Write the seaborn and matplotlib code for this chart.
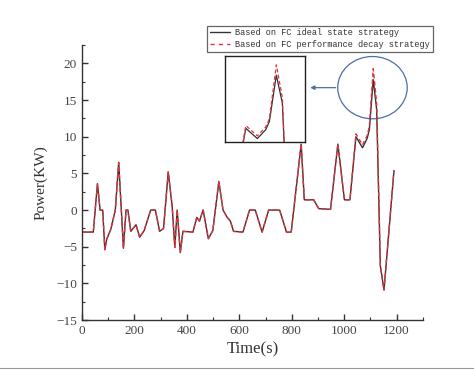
import numpy as np
import pandas as pd
import matplotlib
matplotlib.use('Agg')
import matplotlib.pyplot as plt
from matplotlib.patches import Ellipse
from matplotlib.lines import Line2D
from matplotlib.ticker import MultipleLocator
import seaborn as sns

# power profile (time in s, power in kW)
time_s = [0, 43, 59, 69, 79, 87, 94, 110, 127, 140, 158, 168, 175, 186, 206, 220, 237,
          262, 280, 296, 311, 329, 344, 354, 363, 375, 385, 423, 438, 448, 462, 482, 499,
          522, 538, 554, 566, 578, 614, 639, 661, 687, 712, 754, 780, 798, 836, 848, 884,
          903, 948, 976, 1001, 1022, 1045, 1070, 1088, 1096, 1111, 1124, 1138, 1152, 1190]
power_ideal = [-3, -3, 3.6, 0, 0, -5.4, -4, -2.6, 0, 6.5, -5.2, 0, 0, -2.9, -2, -3.7, -2.8,
               0, 0, -2.9, -2.5, 5.2, 0.5, -5.1, 0, -5.8, -2.9, -3, -1, -1.5, 0, -3.9, -2.8,
               3.9, 0, -1, -1.5, -2.9, -3, 0, 0, -3, 0, 0, -3, -3, 9, 1.4, 1.4,
               0.2, 0.1, 9, 1.4, 1.4, 10, 8.5, 9.8, 11, 17.8, 13.7, -7.6, -10.9, 5.4]
power_decay = [-3, -3, 3.6, 0, 0, -5.4, -4, -2.6, 0, 6.5, -5.2, 0, 0, -2.9, -2, -3.7, -2.8,
               0, 0, -2.9, -2.5, 5.2, 0.5, -5.1, 0, -5.8, -2.9, -3, -1, -1.5, 0, -3.9, -2.8,
               3.9, 0, -1, -1.5, -2.9, -3, 0, 0, -3, 0, 0, -3, -3, 9, 1.4, 1.4,
               0.2, 0.1, 9, 1.4, 1.4, 10.4, 8.9, 10.2, 11.4, 19.3, 14.5, -7.6, -10.9, 5.4]

label_ideal = 'Based on FC ideal state strategy'
label_decay = 'Based on FC performance decay strategy'

sns.set_style('ticks')
plt.rcParams['font.family'] = ['Liberation Serif', 'DejaVu Sans']
plt.rcParams['xtick.direction'] = 'in'
plt.rcParams['ytick.direction'] = 'in'

fig = plt.figure(figsize=(4.74, 3.70), dpi=100)
ax = fig.add_axes([0.173, 0.135, 0.719, 0.743])

sns.lineplot(x=time_s, y=power_ideal, ax=ax, color='#333333', lw=1.0, label=label_ideal, legend=False)
sns.lineplot(x=time_s, y=power_decay, ax=ax, color='#e8303a', lw=1.0,
             label=label_decay, legend=False)
ax.lines[1].set_linestyle((0, (3, 2)))

ax.set_xlim(0, 1300)
ax.set_ylim(-15, 22.5)
ax.xaxis.set_minor_locator(MultipleLocator(100))
ax.set_xticks([0, 200, 400, 600, 800, 1000, 1200])
ax.yaxis.set_minor_locator(MultipleLocator(2.5))
ax.set_yticks([-15, -10, -5, 0, 5, 10, 15, 20])
ax.tick_params(which='major', length=4, width=1, labelsize=9.5, colors='#333333',
               labelcolor='#444444')
ax.tick_params(which='minor', length=2.5, width=0.8, colors='#333333')
for s in ['top', 'right']:
    ax.spines[s].set_visible(False)
for s in ['left', 'bottom']:
    ax.spines[s].set_linewidth(1.0)
    ax.spines[s].set_color('#333333')

ax.set_xlabel('Time(s)', fontsize=12, labelpad=3, color='#333333')
ax.set_ylabel('Power(KW)', fontsize=11, labelpad=6, color='#333333')

# circle round the peak and arrow to the zoomed view
ell = Ellipse((1108, 16.7), 265, 8.5, fill=False, edgecolor='#4a6fa5', lw=0.9, clip_on=False)
ax.add_patch(ell)
ax.annotate('', xy=(860, 16.7), xytext=(978, 16.7), annotation_clip=False,
            arrowprops=dict(arrowstyle='-|>', color='#4a6fa5', lw=0.9, mutation_scale=6))

# zoomed inset
axin = fig.add_axes([225 / 474, 1 - 142 / 370, 80 / 474, 86 / 370])
sns.lineplot(x=time_s, y=power_ideal, ax=axin, color='#333333', lw=0.9)
sns.lineplot(x=time_s, y=power_decay, ax=axin, color='#e8303a', lw=0.9)
axin.lines[1].set_linestyle((0, (3, 2)))
axin.set_xlim(1000, 1173)
axin.set_ylim(8, 20.6)
axin.set_xticks([])
axin.set_yticks([])
axin.set_xlabel('')
axin.set_ylabel('')
for s in axin.spines.values():
    s.set_linewidth(1.0)
    s.set_color('#222222')

h, l = ax.get_legend_handles_labels()
h = [Line2D([], [], color='#333333', lw=1.0),
     Line2D([], [], color='#e8303a', lw=1.0, linestyle=(0, (3, 3)))]
leg = fig.legend(h, l, loc='upper right', bbox_to_anchor=(0.913, 0.93),
                 prop={'family': 'Liberation Mono', 'size': 6.2}, frameon=True,
                 fancybox=False, edgecolor='#666666', framealpha=1,
                 borderpad=0.3, handlelength=2.4, handletextpad=0.6, labelspacing=0.3,
                 borderaxespad=0)
leg.get_frame().set_linewidth(0.9)
for t in leg.get_texts():
    t.set_color('#333333')

# thin frame line at bottom of the picture
fig.add_artist(Line2D([0, 1], [0.006, 0.006], color='#999999', lw=0.8))

fig.savefig('out.png', dpi=100)
